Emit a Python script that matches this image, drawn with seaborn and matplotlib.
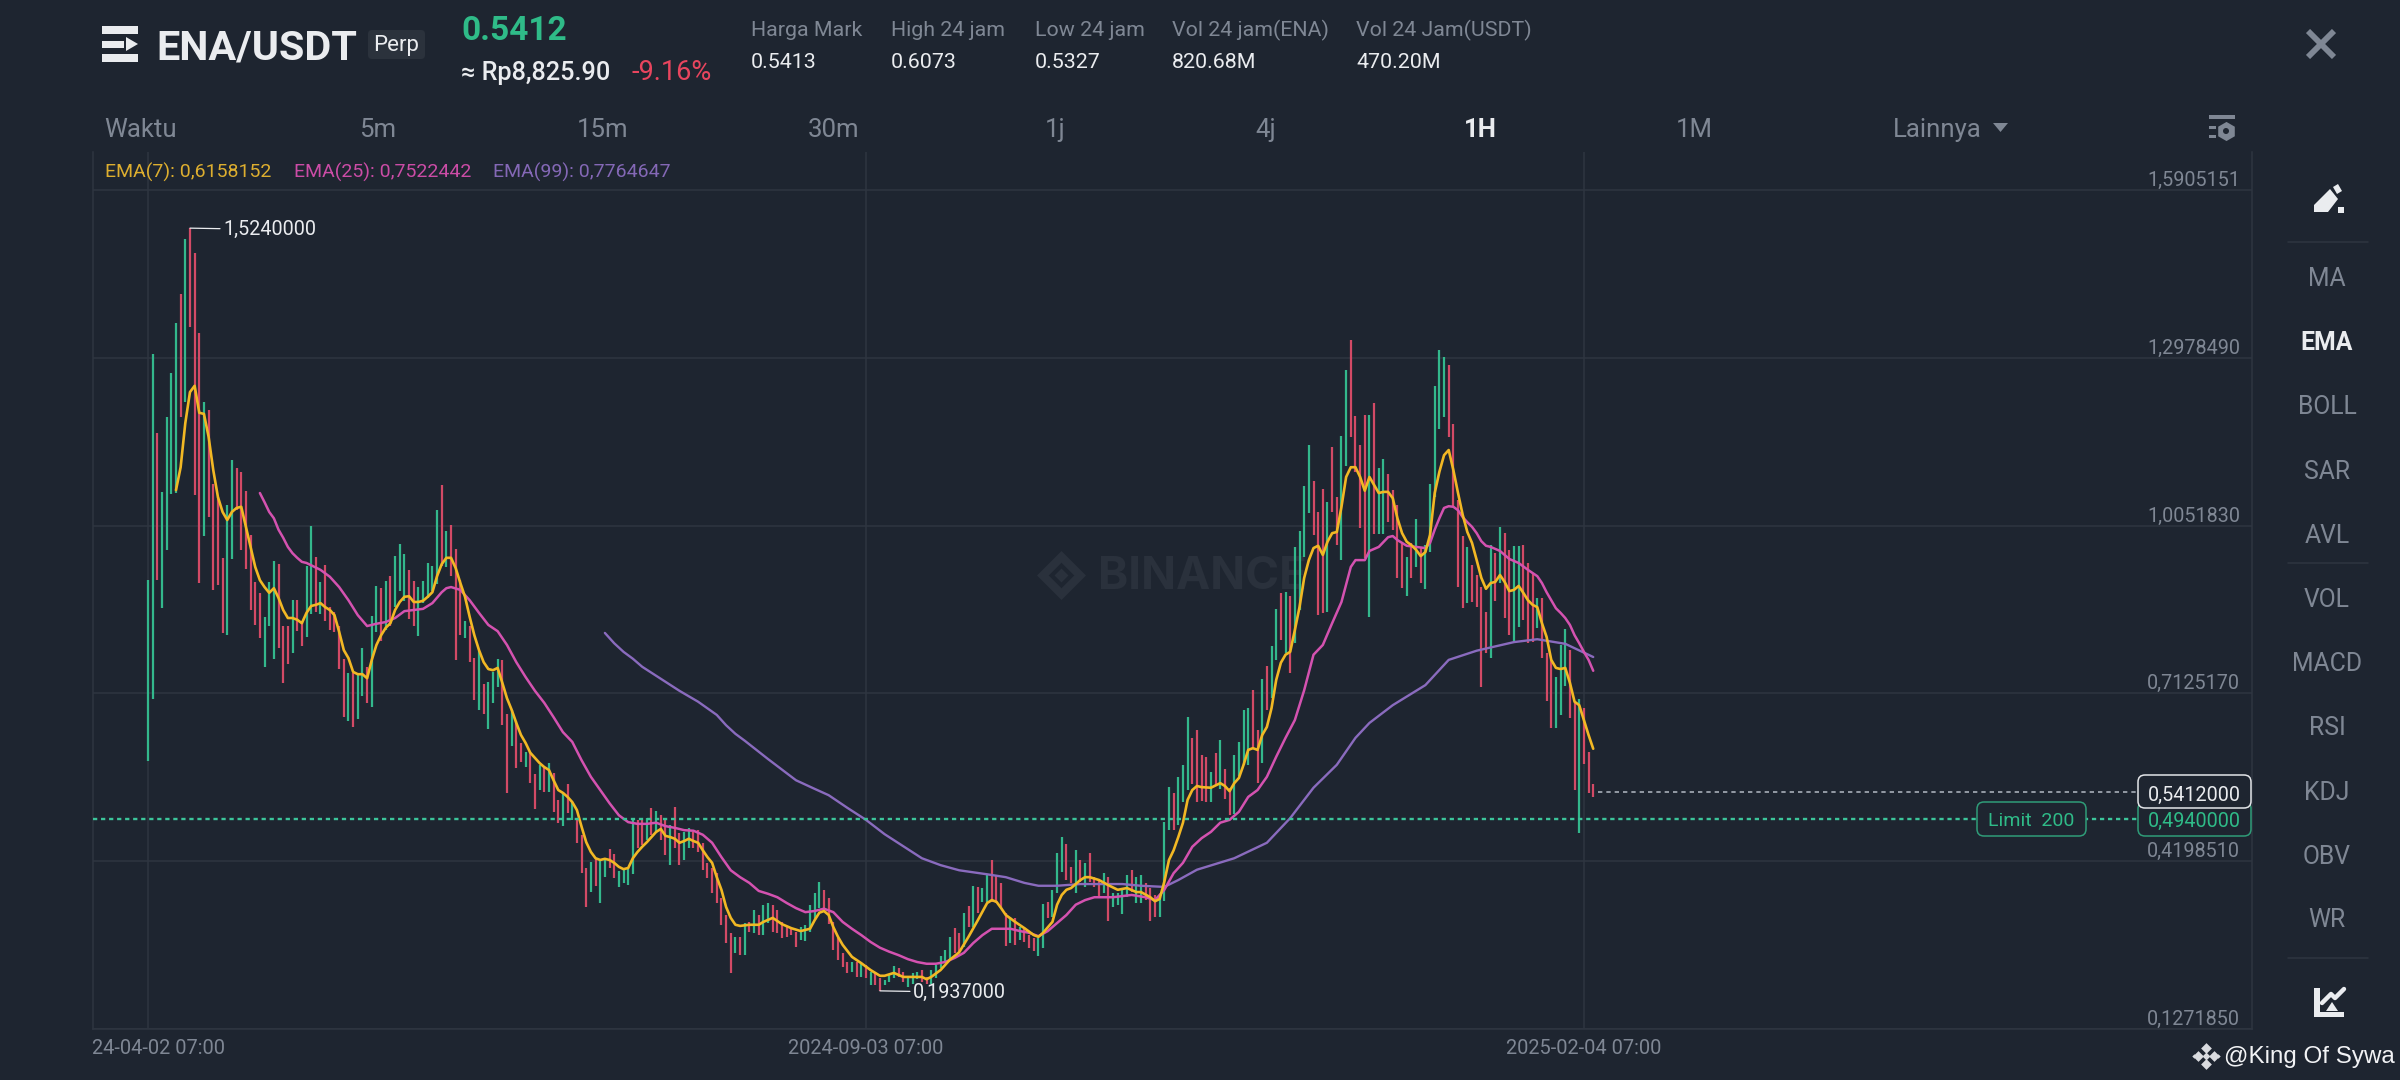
import numpy as np
import pandas as pd
import matplotlib
matplotlib.use("Agg")
import matplotlib.pyplot as plt
from matplotlib.patches import FancyBboxPatch, Polygon, Rectangle, Circle
from matplotlib.transforms import ScaledTranslation
import seaborn as sns

# Daily candles, prices in thousandths of a USDT
candle_high = [
    910,1304,1167,1064,1195,1271,1359,1409,1505,1524,
    1481,1341,1221,1207,1078,1055,949,1041,1120,1106,
    1099,1066,989,907,888,846,907,944,938,830,
    830,875,875,839,935,1005,950,907,937,863,
    855,830,773,748,748,745,792,759,848,900,
    896,909,917,952,973,956,928,909,898,909,
    940,935,1032,1076,996,1006,964,910,839,830,
    774,787,729,732,750,773,771,677,684,664,
    626,610,610,572,588,584,591,574,527,541,
    555,523,492,466,408,419,426,420,422,441,
    432,403,406,408,492,492,492,495,513,507,
    501,492,483,514,469,471,478,471,474,452,
    417,408,399,356,326,295,288,288,312,314,
    335,326,344,347,344,335,314,305,303,296,
    305,309,344,364,384,370,356,314,286,260,
    244,244,244,242,239,227,225,216,213,221,
    237,234,227,218,225,227,230,218,230,239,
    255,265,288,303,295,330,342,377,375,373,
    396,422,396,382,330,323,321,305,305,291,
    286,286,345,349,370,434,462,450,410,439,
    422,417,434,392,387,399,392,364,364,370,
    396,405,392,396,382,373,361,357,488,549,
    539,567,588,671,635,649,605,602,575,609,
    631,581,548,605,628,684,687,719,649,738,
    760,795,860,888,889,882,968,996,1074,1146,
    1083,1029,1069,1046,1142,1055,1162,1277,1329,1196,
    1146,1198,1198,1219,1106,1121,1095,1067,1041,975,
    950,975,1017,968,971,1078,1249,1312,1299,1285,
    1182,1050,987,968,937,919,898,855,971,957,
    1003,992,963,970,970,971,940,923,879,879,
    783,771,741,797,825,788,698,703,687,610,555,
]
candle_low = [
    595,703,910,862,963,1060,1062,1195,1221,1352,
    1059,905,987,1020,893,902,818,814,947,1032,
    963,930,858,832,809,759,830,773,792,731,
    764,783,821,795,811,851,855,851,839,823,
    820,755,671,664,654,668,708,696,689,820,
    804,823,830,863,891,874,842,830,813,870,
    879,891,903,935,933,917,771,814,809,767,
    701,684,677,650,696,724,657,539,621,582,
    593,584,556,511,544,541,541,506,487,481,
    504,492,452,399,340,366,377,347,392,408,
    391,375,382,378,398,443,448,457,466,469,
    457,431,413,443,413,422,443,443,436,405,
    391,364,347,309,277,225,260,256,256,296,
    295,291,291,312,296,295,286,288,291,270,
    282,281,296,317,338,331,310,265,248,235,
    225,227,218,218,216,204,204,193.7,204,209,
    216,218,209,201,206,214,209,206,206,216,
    234,244,248,260,262,270,305,305,330,349,
    349,349,347,338,272,277,274,282,279,269,
    263,255,269,321,323,364,401,387,382,364,
    384,375,384,375,356,364,316,340,344,328,
    357,366,347,347,352,316,323,323,350,474,
    474,483,523,544,555,523,525,523,523,551,
    546,528,501,502,569,588,588,617,556,591,
    684,705,771,806,783,748,800,858,950,1027,
    989,849,853,855,1029,971,945,1109,1160,1099,
    1001,949,846,991,991,991,1012,998,914,896,
    882,914,933,905,895,959,1055,1174,1195,1160,
    1038,898,862,870,872,863,724,783,774,874,
    905,844,814,802,828,841,800,802,827,774,
    699,652,652,675,726,670,544,469,589,539,532,
]
candle_dir = (
    "ggrggggrgr" "rrgrrrrggr" "rrrrrgggrr" "rgrrggrgrr" "rrrgrggrgg"
    "rgrgggrrgg" "gggrgrrrgr" "rgrgggrrgr" "rgrrgrgrrg" "rgrrrgrggr"
    "rggggrrgrg" "rrgrrggrrr" "rrrrrrgrgr" "grggrrrrrr" "gggggrrrrr"
    "rgrgrgrrgg" "grrgggrrgg" "gggrrgrgrg" "grrrrgrgrr" "rggrgggrrg"
    "rgrrrgrggg" "grggrrrggg" "rgggrrrrgr" "grrggggrrg" "rggrgrgggg"
    "rrrgrrggrr" "rrgrggrrrr" "grgrgggggr" "rrrgrrrrgr" "grrggrrrgr"
    "rrgggrrgrrr"
)

# Exponential moving averages as (candle number, thousandths of a USDT)
ema7_pts = [
    (6,1067),(7,1107),(8,1184),(9,1238),(10,1249),(11,1202),(12,1200),(13,1160),(14,1102),(15,1055),
    (16,1029),(17,1015),(18,1029),(19,1036),(20,1038),(21,1003),(22,968),(23,933),(24,910),(25,898),
    (26,888),(27,896),(28,879),(29,858),(30,844),(31,844),(32,841),(33,835),(34,853),(35,865),
    (36,867),(37,870),(38,863),(39,858),(40,849),(41,820),(42,788),(43,774),(44,750),(45,746),
    (46,746),(47,739),(48,771),(49,797),(50,814),(51,827),(52,835),(53,858),(54,872),(55,881),
    (56,882),(57,872),(58,872),(59,874),(60,881),(61,889),(62,917),(63,938),(64,949),(65,949),
    (66,931),(67,905),(68,881),(69,846),(70,814),(71,788),(72,767),(73,755),(74,753),(75,757),
    (76,731),(77,704),(78,684),(79,661),(80,640),(81,626),(82,609),(83,600),(84,591),(85,584),
    (86,579),(87,561),(88,544),(89,539),(90,532),(91,523),(92,509),(93,480),(94,453),(95,436),
    (96,425),(97,422),(98,424),(99,422),(100,417),(101,410),(102,406),(103,408),(104,425),(105,436),
    (106,445),(107,453),(108,462),(109,471),(110,476),(111,464),(112,462),(113,459),(114,452),(115,455),
    (116,459),(117,455),(118,452),(119,439),(120,427),(121,417),(122,392),(123,370),(124,340),(125,321),
    (126,309),(127,307),(129,309),(131,309),(132,314),(134,321),(136,310),(138,303),(140,298),(142,302),
    (143,317),(144,330),(145,333),(146,326),(147,305),(148,288),(149,274),(151,253),(153,242),(155,230),
    (157,220),(158,220),(160,225),(162,218),(164,218),(166,218),(167,214),(168,218),(170,230),(172,248),
    (174,261),(176,288),(178,317),(180,347),(181,352),(182,349),(183,338),(184,326),(186,314),(188,303),
    (190,291),(191,288),(192,295),(194,314),(195,344),(196,361),(197,370),(198,373),(200,387),(201,392),
    (202,392),(204,387),(206,378),(208,370),(210,373),(212,366),(213,366),(215,357),(216,350),(217,354),
    (218,384),(219,422),(220,439),(221,462),(222,487),(223,527),(224,544),(225,551),(226,549),(228,548),
    (230,556),(231,551),(232,542),(233,556),(234,565),(235,588),(236,614),(237,617),(238,614),(239,640),
    (240,654),(241,687),(242,736),(243,766),(244,780),(245,785),(246,823),(247,863),(248,914),(249,945),
    (250,966),(251,970),(252,954),(253,977),(254,992),(255,994),(256,1038),(257,1090),(258,1107),(259,1107),
    (260,1090),(261,1066),(262,1090),(263,1076),(264,1062),(265,1064),(266,1064),(267,1053),(268,1018),(269,992),
    (270,977),(271,971),(272,963),(273,952),(274,959),(275,989),(276,1062),(277,1099),(278,1128),(279,1137),
    (280,1102),(281,1062),(282,1024),(283,994),(284,975),(285,945),(286,914),(287,895),(288,905),(289,907),
    (290,919),(291,907),(292,891),(293,893),(294,900),(295,888),(296,875),(297,867),(298,863),(299,835),
    (300,811),(301,771),(302,757),(303,755),(304,757),(305,731),(306,698),(307,692),(308,666),(309,640),(310,616),
]
ema25_pts = [
    (24,1062),(25,1046),(26,1029),(27,1018),(28,998),(29,984),(30,968),(31,957),(32,949),(33,942),
    (34,940),(35,936),(37,928),(39,916),(41,898),(43,875),(45,849),(47,830),(49,834),(51,837),
    (53,844),(55,856),(57,858),(59,860),(61,870),(63,889),(64,896),(65,898),(67,893),(69,875),
    (71,853),(73,832),(75,821),(77,797),(79,767),(81,741),(83,717),(85,696),(87,671),(89,645),
    (91,628),(93,596),(95,567),(97,544),(99,521),(101,500),(103,488),(105,485),(107,485),(109,487),
    (111,481),(113,478),(115,474),(117,473),(119,466),(121,452),(123,427),(125,404),(127,392),(129,382),
    (131,368),(133,363),(135,357),(137,347),(139,338),(141,331),(143,333),(145,337),(147,331),(149,314),
    (151,302),(153,291),(155,279),(157,269),(159,262),(161,256),(163,249),(165,244),(167,241),(169,241),
    (171,244),(173,251),(175,260),(177,277),(179,291),(181,302),(183,302),(185,302),(187,298),(189,295),
    (191,289),(193,298),(195,312),(197,326),(199,344),(201,352),(203,357),(205,357),(207,357),(209,359),
    (211,361),(214,357),(216,352),(218,370),(220,399),(222,417),(224,445),(226,460),(228,471),(230,487),
    (232,492),(234,506),(236,532),(238,544),(240,567),(242,602),(244,635),(246,666),(248,718),(250,780),
    (252,797),(254,835),(256,872),(258,933),(259,945),(261,945),(262,961),(264,968),(266,985),(267,987),
    (268,980),(270,970),(272,968),(274,966),(275,975),(276,998),(277,1018),(278,1036),(279,1039),(280,1038),
    (281,1032),(282,1020),(283,1011),(284,1003),(285,992),(286,978),(287,970),(288,968),(290,961),(292,947),
    (294,940),(296,928),(298,917),(299,905),(300,889),(301,875),(302,861),(303,853),(304,844),(305,832),
    (306,814),(307,800),(308,785),(309,771),(310,752),
]
ema99_pts = [
    (98,818),(100,800),(102,785),(104,773),(106,759),(110,738),(114,717),(118,698),(122,675),(124,657),
    (126,642),(128,630),(133,598),(139,561),(143,546),(146,535),(150,513),(154,492),(158,467),(162,446),
    (166,425),(170,413),(174,404),(180,397),(184,392),(188,382),(191,377),(195,377),(200,380),(205,380),
    (209,380),(213,377),(218,375),(221,387),(225,405),(233,425),(240,452),(245,495),(250,548),(255,588),
    (259,635),(262,661),(267,692),(274,727),(279,771),(285,787),(293,802),(298,807),(304,799),(310,776),
]

price_ticks = [1.5905151, 1.2978490, 1.0051830, 0.7125170, 0.4198510, 0.1271850]
date_ticks = [0, 154, 308]
date_labels = ["24-04-02 07:00", "2024-09-03 07:00", "2025-02-04 07:00"]
last_price = 0.5412
limit_price = 0.4940
peak_price = 1.5240
trough_price = 0.1937
ema_legend = ["EMA(7): 0,6158152", "EMA(25): 0,7522442", "EMA(99): 0,7764647"]
stat_names = ["Harga Mark", "High 24 jam", "Low 24 jam", "Vol 24 jam(ENA)", "Vol 24 Jam(USDT)"]
stat_values = ["0.5413", "0.6073", "0.5327", "820.68M", "470.20M"]
intervals = ["5m", "15m", "30m", "1j", "4j", "1H", "1M"]
indicators = ["MA", "EMA", "BOLL", "SAR", "AVL", "VOL", "MACD", "RSI", "KDJ", "OBV", "WR"]

BG = "#1E2530"
GRID = "#2E3540"
GREEN = "#33B88C"
RED = "#D34A66"
TEXT_GREEN = "#2FBB88"
TEXT_RED = "#E8455E"
YELLOW = "#F2B824"
PINK = "#D452B0"
PURPLE = "#8A6BBE"
GREY = "#7F8794"
WHITE = "#EAECEF"

sns.set_theme(style="dark", rc={"figure.facecolor": BG, "axes.facecolor": "none"})
plt.rcParams["font.family"] = ["Roboto", "DejaVu Sans"]

W, H = 2400, 1080
fig = plt.figure(figsize=(W / 100, H / 100), dpi=100, facecolor=BG)


def full_layer(z):
    layer = fig.add_axes([0, 0, 1, 1], zorder=z)
    layer.set_xlim(0, W)
    layer.set_ylim(H, 0)
    layer.axis("off")
    return layer


back = full_layer(0)
front = full_layer(3)

# Price pane: 4.662 px per candle, 1.7441e-3 USDT per px
L, R, T, B = 93, 2252, 152, 1029
ax = fig.add_axes([L / W, 1 - B / H, (R - L) / W, (B - T) / H], zorder=1)
ax.set_xlim((L - 148) / 4.662, (R - 148) / 4.662)
ax.set_ylim(price_ticks[-1], 1.6568)

candles = pd.DataFrame({
    "day": np.arange(len(candle_high)),
    "high": np.array(candle_high, dtype=float) / 1000,
    "low": np.array(candle_low, dtype=float) / 1000,
    "dir": list(candle_dir),
})
candles["colour"] = candles["dir"].map({"g": GREEN, "r": RED})
ax.vlines(candles["day"], candles["low"], candles["high"], colors=candles["colour"],
          linewidth=1.6, zorder=2)

for pts, colour, width in [(ema99_pts, PURPLE, 1.7), (ema25_pts, PINK, 1.8), (ema7_pts, YELLOW, 1.9)]:
    frame = pd.DataFrame(pts, columns=["day", "milli"])
    frame["price"] = frame["milli"] / 1000
    sns.lineplot(data=frame, x="day", y="price", color=colour, linewidth=width,
                 estimator=None, ax=ax, zorder=3)

ax.set_xlabel("")
ax.set_ylabel("")

ax.axhline(limit_price, color="#3CC59A", linewidth=1.7, dashes=(1.8, 1.6), zorder=4)
ax.plot([311, (2138 - 148) / 4.662], [last_price, last_price], color="#A8AEB8",
        linewidth=1.2, dashes=(2.6, 2.4), zorder=4)

ax.grid(True, color=GRID, linewidth=1.1)
ax.set_axisbelow(True)
ax.yaxis.tick_right()
ax.set_yticks(price_ticks)
ax.set_yticklabels([f"{p:.7f}".replace(".", ",") for p in price_ticks])
ax.set_xticks(date_ticks)
ax.set_xticklabels(date_labels)
ax.tick_params(axis="y", length=0, pad=-8.5, labelsize=14.2, labelcolor=GREY)
ax.tick_params(axis="x", length=0, pad=7.5, labelsize=14.4, labelcolor=GREY)
for lab in ax.get_yticklabels():
    lab.set_ha("right")
    lab.set_va("bottom")
first = ax.get_xticklabels()[0]
first.set_transform(first.get_transform() + ScaledTranslation(0.11, 0, fig.dpi_scale_trans))

for side, spine in ax.spines.items():
    spine.set_visible(side != "top")
    spine.set_color(GRID)
    spine.set_linewidth(1.1)

# High and low of the visible range
for day, price, txt in [(9, peak_price, "1,5240000"), (157, trough_price, "0,1937000")]:
    ax.annotate(txt, xy=(day, price), xytext=(24, -1), textcoords="offset points",
                ha="left", va="center", fontsize=14.2, color=WHITE, zorder=6,
                arrowprops=dict(arrowstyle="-", color=WHITE, lw=0.9, shrinkA=0, shrinkB=0))

# Exchange mark behind the candles
back.text(1098, 577, "BINANCE", fontsize=33, fontweight="bold", color="#2A313C",
          ha="left", va="center", family=["Inter", "DejaVu Sans"])
back.scatter([1061], [575], s=620, marker="D", color="#2A313C", linewidths=0)
back.scatter([1061], [575], s=170, marker="D", color=BG, linewidths=0)
back.scatter([1061], [575], s=50, marker="D", color="#2A313C", linewidths=0)

# Title row
for y, h, w in [(26, 8, 36), (54, 8, 36), (41, 7, 22)]:
    front.add_patch(Rectangle((102, y), w, h, color=WHITE, lw=0))
front.add_patch(Polygon([(126, 37), (138, 44), (126, 51)], closed=True, color=WHITE, lw=0))
front.text(156, 49, "ENA/USDT", fontsize=29.8, fontweight="bold", color=WHITE, va="center")
front.add_patch(FancyBboxPatch((368, 30), 57, 29, boxstyle="round,pad=0,rounding_size=4",
                               fc="#2B323C", ec="none"))
front.text(396, 45, "Perp", fontsize=16, color=WHITE, ha="center", va="center")
front.text(461, 31, "0.5412", fontsize=24, fontweight="bold", color=TEXT_GREEN, va="center")
front.text(461, 73, "≈ Rp8,825.90", fontsize=18.2, fontweight="medium", color=WHITE, va="center")
front.text(632, 73, "-9.16%", fontsize=19.5, color=TEXT_RED, va="center")

for x, name, val in zip([751, 891, 1035, 1172, 1356], stat_names, stat_values):
    front.text(x, 30, name, fontsize=15.4, color=GREY, va="center")
    front.text(x, 63, val, fontsize=15.4, color=WHITE, va="center")

front.plot([2308, 2334], [31, 57], color=GREY, lw=4.2, solid_capstyle="butt")
front.plot([2308, 2334], [57, 31], color=GREY, lw=4.2, solid_capstyle="butt")

# Interval row
front.text(104, 130, "Waktu", fontsize=18.5, color=GREY, va="center")
for x, name in zip([378, 603, 834, 1055, 1266, 1480, 1694], intervals):
    active = name == "1H"
    front.text(x, 130, name, fontsize=18.5, color=WHITE if active else GREY,
               fontweight="bold" if active else "normal", ha="center", va="center")
front.text(1893, 130, "Lainnya", fontsize=18.5, color=GREY, va="center")
front.add_patch(Polygon([(1993, 123), (2008, 123), (2000.5, 132)], closed=True, color=GREY, lw=0))
front.add_patch(Rectangle((2209, 115), 26, 3.5, color=GREY, lw=0))
front.add_patch(Rectangle((2209, 126), 7, 3.2, color=GREY, lw=0))
front.add_patch(Rectangle((2209, 135), 7, 3.2, color=GREY, lw=0))
front.scatter([2226], [131], s=190, marker="h", color=GREY, linewidths=0)
front.add_patch(Circle((2226, 131), 3, color=BG, lw=0))

# EMA legend
for x, txt, colour in zip([105, 294, 493], ema_legend, ["#DDAE2F", "#CB4CA6", "#8468B6"]):
    front.text(x, 172, txt, fontsize=14, color=colour, va="center")

# Indicator column
for y, name in zip([279, 343, 407, 472, 536, 600, 664, 728, 793, 857, 920], indicators):
    active = name == "EMA"
    front.text(2327, y, name, fontsize=17.8, color=WHITE if active else GREY,
               fontweight="bold" if active else "normal", ha="center", va="center")
for y in [242, 563, 958]:
    front.plot([2288, 2368], [y, y], color=GRID, lw=1.1)
front.add_patch(Polygon([(2314, 205), (2330, 189), (2338, 199), (2328, 212), (2314, 212)],
                        closed=True, color=WHITE, lw=0))
front.add_patch(Polygon([(2333, 187), (2338, 184), (2342, 191), (2337, 194)], closed=True, color=WHITE, lw=0))
front.add_patch(Rectangle((2338, 207), 6, 5.5, color=WHITE, lw=0))
front.add_patch(Rectangle((2314, 988), 6, 29, color=WHITE, lw=0))
front.add_patch(Rectangle((2314, 1012), 30, 5, color=WHITE, lw=0))
front.plot([2322, 2331, 2335, 2344], [1003, 994, 998, 989], color=WHITE, lw=3.2)
front.add_patch(Polygon([(2326, 1011), (2332, 1002), (2338, 1011)], closed=True, color=WHITE, lw=0))

# Price tags on the right edge
front.add_patch(FancyBboxPatch((2138, 802), 113, 34, boxstyle="round,pad=0,rounding_size=7",
                               fc=BG, ec="#2F9C78", lw=1.1))
front.text(2194, 821, "0,4940000", fontsize=14.2, color=TEXT_GREEN, ha="center", va="center")
front.add_patch(FancyBboxPatch((2138, 775), 113, 33, boxstyle="round,pad=0,rounding_size=7",
                               fc=BG, ec="#E3E5E8", lw=1.1))
front.text(2194, 795, "0,5412000", fontsize=14.2, color=WHITE, ha="center", va="center")
front.add_patch(FancyBboxPatch((1977, 802), 109, 34, boxstyle="round,pad=0,rounding_size=7",
                               fc=BG, ec="#2F9C78", lw=1.1))
front.text(2031, 821, "Limit  200", fontsize=14, color=TEXT_GREEN, ha="center", va="center")

# Author credit in the corner
front.text(2224, 1057, "@King Of Sywa", fontsize=17.4, color="#F2F3F5", va="center",
           family=["Liberation Sans"])
front.scatter([2206], [1048], s=30, marker="D", color="#D9DBDF", linewidths=0)
front.scatter([2206], [1064], s=30, marker="D", color="#D9DBDF", linewidths=0)
front.scatter([2198, 2214], [1056, 1056], s=30, marker="D", color="#D9DBDF", linewidths=0)
front.scatter([2206], [1056], s=16, marker="D", color="#D9DBDF", linewidths=0)
front.scatter([2194, 2218], [1056, 1056], s=5, marker="D", color="#D9DBDF", linewidths=0)

fig.savefig("out.png", dpi=100, facecolor=BG)
